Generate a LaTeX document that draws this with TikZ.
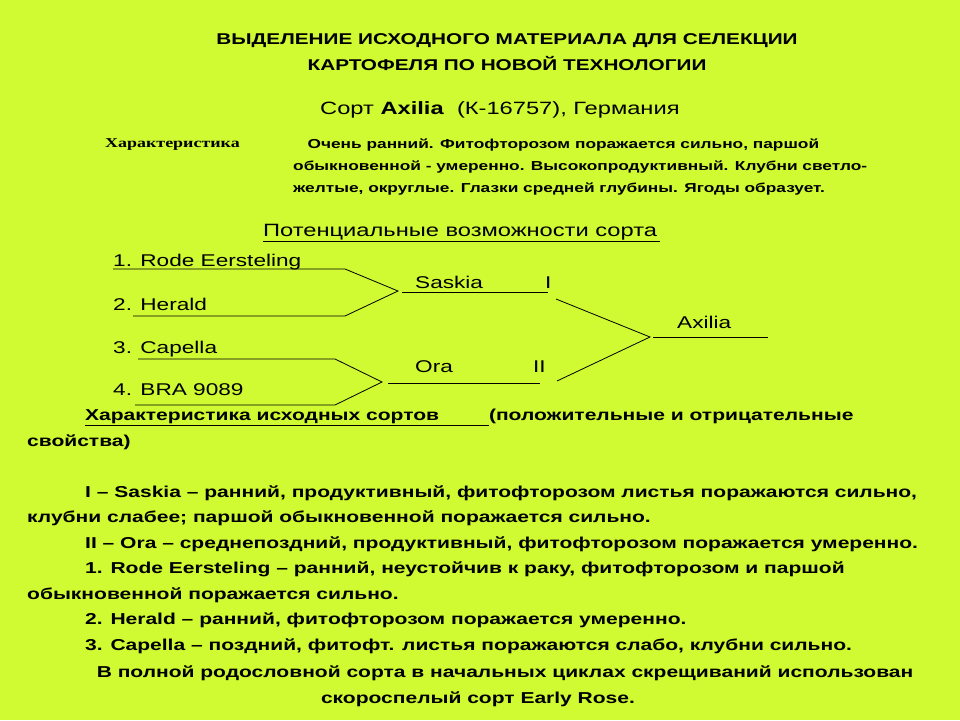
\documentclass[tikz,border=0pt]{standalone}
\usepackage{fontspec}
\setmainfont{Liberation Sans}[FakeStretch=1.33]
\newfontfamily\serifb{Liberation Serif}[FakeStretch=1.33]
\begin{document}
\begin{tikzpicture}[x=1pt,y=-1pt,
  t/.style={anchor=base west,inner sep=0pt,font=\fontsize{17}{20}\selectfont},
  ln/.style={line width=0.8pt}]
\fill[fill={rgb,255:red,208;green,250;blue,50}] (0,0) rectangle (960,720);
\useasboundingbox (0,0) rectangle (960,720);
\node[anchor=base,inner sep=0pt,align=center,font=\bfseries\fontsize{15.6}{26}\selectfont] (title) at (507,44) {ВЫДЕЛЕНИЕ ИСХОДНОГО МАТЕРИАЛА ДЛЯ СЕЛЕКЦИИ};
\node[anchor=base,inner sep=0pt,font=\bfseries\fontsize{15.6}{26}\selectfont] (title2) at (507,70) {КАРТОФЕЛЯ ПО НОВОЙ ТЕХНОЛОГИИ};
\node[t,font=\fontsize{17.8}{20}\selectfont] (sort) at (320,114) {Сорт \textbf{Axilia} \ (К-16757), Германия};
\node[anchor=base west,inner sep=0pt,font=\serifb\bfseries\fontsize{13.5}{14}\selectfont] (ch) at (105,147) {Характеристика};
\node[anchor=base west,inner sep=0pt,align=left,font=\bfseries\fontsize{13}{22}\selectfont] (chtxt) at (293,192) {\ \ \ Очень ранний. Фитофторозом поражается сильно, паршой\\обыкновенной - умеренно. Высокопродуктивный. Клубни светло-\\желтые, округлые. Глазки средней глубины. Ягоды образует.};
\node[t,font=\fontsize{17.8}{20}\selectfont] (pot) at (263,236) {Потенциальные возможности сорта};
\draw[ln] (263,241) -- (660,241);
\node[t] (p1) at (113,266) {1. Rode Eersteling};
\node[t] (p2) at (113,310) {2. Herald};
\node[t] (p3) at (113,353) {3. Capella};
\node[t] (p4) at (113,395) {4. BRA 9089};
\node[t] (sas) at (415,288) {Saskia};
\node[t] (i1) at (545,288) {I};
\node[t] (ora) at (415,372) {Ora};
\node[t] (i2) at (533,372) {II};
\node[t] (ax) at (677,328) {Axilia};
\coordinate (a1) at (113,269); \coordinate (a2) at (345,269);
\coordinate (b1) at (133,316); \coordinate (b2) at (345,316);
\coordinate (s0) at (398,291); \coordinate (s1) at (402,292); \coordinate (s2) at (548,292);
\coordinate (c1) at (138,359); \coordinate (c2) at (335,359);
\coordinate (d1) at (135,405); \coordinate (d2) at (335,405);
\coordinate (o0) at (382,382); \coordinate (o1) at (388,383); \coordinate (o2) at (540,383);
\coordinate (x0) at (650,337); \coordinate (x1) at (653,337); \coordinate (x2) at (768,337);
\coordinate (i1e) at (556,299); \coordinate (i2e) at (557,381);
\draw[ln] (a1)--(a2)--(s0)--(b2)--(b1);
\draw[ln] (s1)--(s2);
\draw[ln] (c1)--(c2)--(o0)--(d2)--(d1);
\draw[ln] (o1)--(o2);
\draw[ln] (i1e)--(x0)--(i2e);
\draw[ln] (x1)--(x2);
\node[anchor=base west,inner sep=0pt,align=left,font=\bfseries\fontsize{15.8}{25.5}\selectfont] (body) at (27,650) {%
\hspace*{58pt}\underline{Характеристика исходных сортов\hspace*{50pt}}(положительные и отрицательные\\
свойства)\\[25.5pt]
\hspace*{58pt}I – Saskia – ранний, продуктивный, фитофторозом листья поражаются сильно,\\
клубни слабее; паршой обыкновенной поражается сильно.\\
\hspace*{58pt}II – Ora – среднепоздний, продуктивный, фитофторозом поражается умеренно.\\
\hspace*{58pt}1. Rode Eersteling – ранний, неустойчив к раку, фитофторозом и паршой\\
обыкновенной поражается сильно.\\
\hspace*{58pt}2. Herald – ранний, фитофторозом поражается умеренно.\\
\hspace*{58pt}3. Capella – поздний, фитофт. листья поражаются слабо, клубни сильно.};
\node[anchor=base,inner sep=0pt,font=\bfseries\fontsize{15.8}{24}\selectfont] (foot) at (505,677) {В полной родословной сорта в начальных циклах скрещиваний использован};
\node[anchor=base,inner sep=0pt,font=\bfseries\fontsize{15.8}{24}\selectfont] (foot2) at (478,703) {скороспелый сорт Early Rose.};
\end{tikzpicture}
\end{document}
